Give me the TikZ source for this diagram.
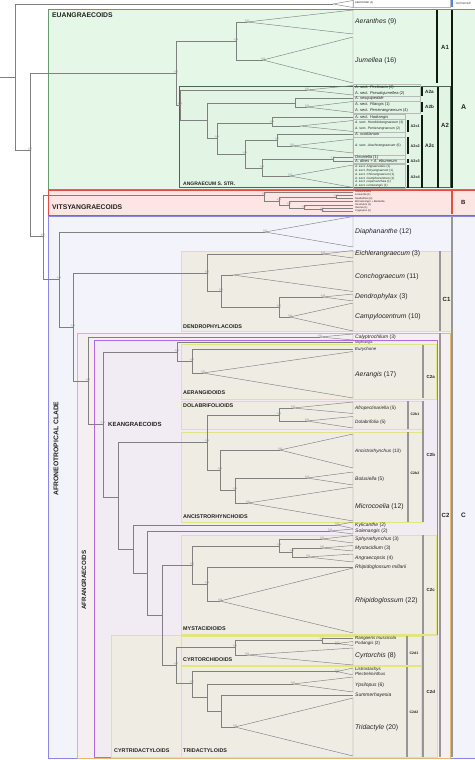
\documentclass[tikz,border=0pt]{standalone}
\usepackage{fontspec}
\setmainfont{Liberation Sans}
\usetikzlibrary{calc}
\definecolor{eufill}{RGB}{229,247,231}
\definecolor{euline}{RGB}{96,158,108}
\definecolor{ssfill}{RGB}{226,245,229}
\definecolor{ssline}{RGB}{70,105,80}
\definecolor{vitfill}{RGB}{252,229,227}
\definecolor{vitline}{RGB}{226,78,66}
\definecolor{afrfill}{RGB}{243,243,251}
\definecolor{afrline}{RGB}{136,136,232}
\definecolor{orfill}{RGB}{244,239,241}
\definecolor{orline}{RGB}{232,182,120}
\definecolor{pufill}{RGB}{241,235,243}
\definecolor{puline}{RGB}{178,104,226}
\definecolor{yefill}{RGB}{238,236,227}
\definecolor{yeline}{RGB}{228,228,130}
\definecolor{brgray}{RGB}{128,128,128}
\definecolor{ink}{RGB}{35,35,35}
\definecolor{barblk}{RGB}{12,28,14}
\definecolor{bargry}{RGB}{150,150,150}
\definecolor{ogblue}{RGB}{80,130,230}
\newcommand\fs[1]{\fontsize{#1}{#1}\selectfont}
% support values at a node: posterior probability over bootstrap
\newcommand\supp[3]{\node[sup] (s-#1) at (#1) {#2\\#3};}
% collapsed clade: apex, top and bottom of the base
\newcommand\tri[3]{\draw[br] (#1) -- (353,#2) -- (353,#3) -- cycle;}
\tikzset{
  box/.style={draw=#1line,fill=#1fill,line width=0.8pt},
  br/.style={draw=brgray,line width=0.45pt},
  row/.style={draw=gray!55,line width=0.35pt},
  tax/.style={anchor=west,inner xsep=2pt,inner ysep=0pt,text=ink,font=\fs{6.8}},
  taxm/.style={tax,font=\fs{5}},
  taxs/.style={tax,font=\fs{4}},
  taxx/.style={tax,font=\fs{3.4}},
  taxt/.style={tax,font=\fs{2.6}},
  grp/.style={anchor=west,inner sep=0pt,text=ink,font=\bfseries\fs{5.4}},
  biggrp/.style={grp,font=\bfseries\fs{6.8}},
  bar/.style={line width=2.4pt,draw=barblk},
  gbar/.style={line width=2pt,draw=bargry},
  barlab/.style={anchor=west,inner sep=0pt,text=ink,font=\bfseries\fs{#1}},
  barlab/.default=6,
  sup/.style={font=\fs{2.2},text=brgray,inner sep=0pt,align=center},
}
\begin{document}
\begin{tikzpicture}[x=1pt,y=-1pt]
\useasboundingbox (0,0) rectangle (474,760);
% clade boxes
\draw[box=eu] (48,9) rectangle (477,189);
\draw[box=ss,line width=0.6pt] (179,86) rectangle (450,187);
\draw[box=vit] (48,190) rectangle (477,215);
\draw[box=afr] (48,216) rectangle (477,758);
\draw[box=ye,line width=1pt] (181,251) rectangle (452,331);
\draw[box=or,line width=1pt] (77,333) rectangle (450,758);
\draw[box=pu,line width=1pt] (94,340) rectangle (437,757);
\draw[box=ye,line width=1pt] (181,344) rectangle (436,399);
\draw[box=ye,line width=1pt] (181,401) rectangle (422,429);
\draw[box=ye,line width=1pt] (181,432) rectangle (422,522);
\draw[box=ye,line width=1pt] (181,535) rectangle (436,634);
\draw[box=ye,line width=1pt] (111,635) rectangle (437,757);
\draw[box=ye,line width=1pt] (181,636) rectangle (421,665);
\draw[box=ye,line width=1pt] (181,666) rectangle (421,757);
% terminal rows
\draw[row,fill=white] (353,-1) rectangle (450,7.5);
\foreach \t/\b/\r in {84.5/96/420,96/101/420,101/113/420,114/119.5/405,119.5/132/405,
  132/137/405,137/155/405,155/159/405,159/163.5/405,164.5/188/405}
  \draw[row] (353,\t) rectangle (\r,\b);

% tree, euangraecoids
\coordinate (stub) at (0,77);
\coordinate (root) at (15,77);
\coordinate (og) at (333,4);
\coordinate (ing) at (30,150);
\coordinate (eu) at (176,73);
\coordinate (a1) at (236,41);
\coordinate (aer) at (247,22);
\coordinate (jum) at (263,60);
\coordinate (a2) at (180,105);
\coordinate (a2a) at (307,90);
\coordinate (a2r) at (207,120);
\coordinate (ses) at (295,103);
\coordinate (a2b) at (307,107);
\coordinate (a2c) at (217,138);
\coordinate (hd) at (272,123);
\coordinate (c1) at (300,126);
\coordinate (e) at (245,154);
\coordinate (f) at (277,140);
\coordinate (arac) at (292,146);
\coordinate (g) at (262,168);
\coordinate (h) at (333,159);
\coordinate (c4) at (290,176);

\node[taxt] (t-og) at (353,3.3) {AERIDINAE (4)};
\node[taxt] (t-ogl) at (454,3.3) {OUTGROUP};
\node[tax] (t-aer) at (353,22) {\textit{Aeranthes} (9)};
\node[tax] (t-jum) at (353,61) {\textit{Jumellea} (16)};
\node[taxs] (t-pect) at (353,87.5) {\textit{A.} sect. \textit{Pectinaria} (2)};
\node[taxs] (t-pseu) at (353,93) {\textit{A.} sect. \textit{Pseudojumellea} (2)};
\node[taxs] (t-sesq) at (353,98.7) {\textit{A. sesquipedale}};
\node[taxs] (t-fila) at (353,104.5) {\textit{A.} sect. \textit{Filangis} (1)};
\node[taxs] (t-perr) at (353,110) {\textit{A.} sect. \textit{Perrierangraecum} (4)};
\node[taxs] (t-hadr) at (353,117) {\textit{A.} sect. \textit{Hadrangis}};
\node[taxx] (t-humb) at (353,123) {\textit{A.} sect. \textit{Humblotiangraecum} (3)};
\node[taxx] (t-perb) at (353,129) {\textit{A.} sect. \textit{Perrierangraecum} (2)};
\node[taxs] (t-scot) at (353,134.5) {\textit{A. scottianum}};
\node[taxx] (t-arac) at (353,146) {\textit{A.} sect. \textit{Arachnangraecum} (6)};
\node[taxs] (t-oeon) at (353,157) {\textit{Oeoniella} (1)};
\node[taxs] (t-dive) at (353,161.3) {\textit{A. dives} + \textit{A. eburneum}};
\foreach \s [count=\i] in {Angraecoides,Boryangraecum,Chlorangraecum,Gomphocentrum,Lepervanchea,Lemurangis}
  \node[taxt,font=\fs{3.1}] (t-sx\i) at (353,163+3.8*\i) {\textit{A.} sect. \textit{\s} (1)};

\draw[br] (stub) -- (root) (root) |- (og) (root) |- (ing);
\tri{og}{0.5}{7.5}
\draw[br] (ing) |- (eu) (eu) |- (a1) (a1) |- (aer) (a1) |- (jum);
\tri{aer}{10}{34}
\tri{jum}{37}{83}
\draw[br] (eu) |- (a2) (a2) |- (a2a) (a2) |- (a2r) (a2r) |- (ses) (ses) |- (t-sesq.west)
  (ses) |- (a2b) (a2r) |- (a2c) (a2c) |- (hd) (hd) |- (t-hadr.west) (hd) |- (c1)
  (a2c) |- (e) (e) |- (f) (f) |- (t-scot.west) (f) |- (arac) (e) |- (g)
  (g) |- (h) (h) |- (t-oeon.west) (h) |- (t-dive.west) (g) |- (c4);
\tri{a2a}{85.5}{95}
\tri{a2b}{101.5}{112.5}
\tri{c1}{120.5}{131.5}
\tri{arac}{139}{153}
\tri{c4}{165}{187.5}

% tree, vitsyangraecoids
\coordinate (vc) at (43,236);
\coordinate (v0) at (264,195);
\coordinate (v1) at (279,201);
\coordinate (v2) at (336,196.8);
\coordinate (v3) at (289,205);
\coordinate (v4) at (304,208);
\coordinate (v5) at (322,209.6);
\foreach \n/\s [count=\i] in {Sobennikoffia/,Lemurella/ (1),Neobathiea/ (3),Microterangis + Beclardia/,
  Ossiculum/ (1),Oeonia/ (1),Cryptopus/ (2)}
  \node[taxt] (t-v\i) at (353,188.8+3.2*\i) {\textit{\n}\s};
\draw[br] (ing) |- (vc) (vc) |- (v0) (v0) |- (t-v1.west) (v0) |- (v1) (v1) |- (v2)
  (v2) |- (t-v2.west) (v2) |- (t-v3.west) (v1) |- (v3) (v3) |- (t-v4.west) (v3) |- (v4)
  (v4) |- (t-v5.west) (v4) |- (v5) (v5) |- (t-v6.west) (v5) |- (t-v7.west);

% tree, afroneotropical clade
\coordinate (af) at (59,279);
\coordinate (dia) at (265,232);
\coordinate (dc) at (73,327);
\coordinate (de) at (207,273);
\coordinate (eich) at (323,254);
\coordinate (de2) at (221,291);
\coordinate (conc) at (233,275);
\coordinate (de3) at (279,307);
\coordinate (dphx) at (323,297);
\coordinate (camp) at (290,317);
\coordinate (afr) at (88,381);
\coordinate (caly) at (320,337);
\coordinate (ke) at (103,424);
\coordinate (aer0) at (177,352);
\coordinate (aer1) at (192,361);
\coordinate (aerg) at (203,373);
\coordinate (ke2) at (118,497);
\coordinate (ad) at (207,442);
\coordinate (dol) at (279,415);
\coordinate (afrp) at (293,408);
\coordinate (dolb) at (307,421);
\coordinate (anc) at (220,470);
\coordinate (ancs) at (280,450);
\coordinate (anc2) at (235,490);
\coordinate (bolu) at (307,478);
\coordinate (micr) at (248,503);
\coordinate (my0) at (133,549);
\coordinate (kyl) at (337,525);
\coordinate (my1) at (147,573);
\coordinate (sol) at (330,531);
\coordinate (my2) at (162,615);
\coordinate (mys) at (192,565);
\coordinate (m1) at (279,546);
\coordinate (sphy) at (322,539);
\coordinate (m1b) at (292,552);
\coordinate (mysd) at (322,548);
\coordinate (angp) at (308,557);
\coordinate (m2) at (207,584);
\coordinate (rhip) at (220,601);
\coordinate (cy) at (176,665);
\coordinate (cyo) at (235,647);
\coordinate (ran) at (322,640);
\coordinate (pod) at (337,643.5);
\coordinate (cyrt) at (247,655);
\coordinate (tr) at (192,683);
\coordinate (lp) at (337,671.5);
\coordinate (tr2) at (207,697);
\coordinate (yps) at (293,684);
\coordinate (tr3) at (221,711);
\coordinate (trid) at (235,727);

\node[tax] (t-dia) at (353,232) {\textit{Diaphananthe} (12)};
\node[tax] (t-eich) at (353,254) {\textit{Eichlerangraecum} (3)};
\node[tax] (t-conc) at (353,277) {\textit{Conchograecum} (11)};
\node[tax] (t-dphx) at (353,297) {\textit{Dendrophylax} (3)};
\node[tax] (t-camp) at (353,317) {\textit{Campylocentrum} (10)};
\node[taxm] (t-caly) at (353,337) {\textit{Calyptrochilum} (3)};
\node[taxx] (t-neph) at (353,342.5) {\textit{Nephrangis}};
\node[taxs,font=\fs{4.4}] (t-eury) at (353,349.5) {\textit{Eurychone}};
\node[tax] (t-aerg) at (353,375) {\textit{Aerangis} (17)};
\node[taxm,font=\fs{4.7}] (t-afrp) at (353,408) {\textit{Afropectinariella} (5)};
\node[taxm,font=\fs{4.7}] (t-dolb) at (353,422) {\textit{Dolabrifolia} (5)};
\node[taxm,font=\fs{4.7}] (t-ancs) at (353,451) {\textit{Ancistrorhynchus} (13)};
\node[taxm] (t-bolu) at (353,479) {\textit{Bolusiella} (5)};
\node[tax] (t-micr) at (353,507) {\textit{Microcoelia} (12)};
\node[taxm] (t-kyl) at (353,525) {\textit{Kylicanthe} (2)};
\node[taxm] (t-sol) at (353,531) {\textit{Solenangis} (2)};
\node[taxm] (t-sphy) at (353,539) {\textit{Sphyrarhynchus} (3)};
\node[taxm] (t-mysd) at (353,548) {\textit{Mystacidium} (3)};
\node[taxm] (t-angp) at (353,558) {\textit{Angraecopsis} (4)};
\node[taxm] (t-rmil) at (353,567) {\textit{Rhipidoglossum millarii}};
\node[tax] (t-rhip) at (353,601) {\textit{Rhipidoglossum} (22)};
\node[taxs,font=\fs{4.4}] (t-ran) at (353,638) {\textit{Rangaeris muscicola}};
\node[taxs,font=\fs{4.4}] (t-pod) at (353,643) {\textit{Podangis} (2)};
\node[tax] (t-cyrt) at (353,656) {\textit{Cyrtorchis} (8)};
\node[taxs,font=\fs{4.4}] (t-list) at (353,669) {\textit{Listrostachys}};
\node[taxs,font=\fs{4.4}] (t-plec) at (353,674) {\textit{Plectrelminthus}};
\node[taxm] (t-yps) at (353,685) {\textit{Ypsilopus} (6)};
\node[taxm] (t-summ) at (353,695) {\textit{Summerhayesia}};
\node[tax] (t-trid) at (353,728) {\textit{Tridactyle} (20)};

\draw[br] (vc) |- (af) (af) |- (dia) (af) |- (dc) (dc) |- (de) (de) |- (eich) (de) |- (de2)
  (de2) |- (conc) (de2) |- (de3) (de3) |- (dphx) (de3) |- (camp);
\tri{dia}{216.5}{247}
\tri{eich}{250.5}{258}
\tri{conc}{261}{291.5}
\tri{dphx}{294}{301}
\tri{camp}{303}{331}
\draw[br] (dc) |- (afr) (afr) |- (caly) (afr) |- (ke) (ke) |- (aer0) (aer0) |- (t-neph.west)
  (aer0) |- (aer1) (aer1) |- (t-eury.west) (aer1) |- (aerg);
\tri{caly}{334}{340}
\tri{aerg}{351.5}{398}
\draw[br] (ke) |- (ke2) (ke2) |- (ad) (ad) |- (dol) (dol) |- (afrp) (dol) |- (dolb)
  (ad) |- (anc) (anc) |- (ancs) (anc) |- (anc2) (anc2) |- (bolu) (anc2) |- (micr);
\tri{afrp}{402}{413.5}
\tri{dolb}{416.5}{428}
\tri{ancs}{434}{468}
\tri{bolu}{472}{485}
\tri{micr}{487}{521}
\draw[br] (ke2) |- (my0) (my0) |- (kyl) (my0) |- (my1) (my1) |- (sol) (my1) |- (my2)
  (my2) |- (mys) (mys) |- (m1) (m1) |- (sphy) (m1) |- (m1b) (m1b) |- (mysd) (m1b) |- (angp)
  (mys) |- (m2) (m2) |- (t-rmil.west) (m2) |- (rhip);
\tri{kyl}{522}{528.5}
\tri{sol}{529}{534}
\tri{sphy}{535.5}{543}
\tri{mysd}{545.5}{551}
\tri{angp}{554}{562}
\tri{rhip}{568}{633}
\draw[br] (my2) |- (cy) (cy) |- (cyo) (cyo) |- (ran) (ran) |- (t-ran.west) (ran) |- (pod)
  (cyo) |- (cyrt) (cy) |- (tr) (tr) |- (lp) (tr) |- (tr2) (tr2) |- (yps) (tr2) |- (tr3)
  (tr3) |- (t-summ.west) (tr3) |- (trid);
\tri{pod}{641.5}{645.5}
\tri{cyrt}{648}{665}
\tri{lp}{668}{675}
\tri{yps}{677}{692}
\tri{trid}{698}{756}

% support values
\supp{ing}{1.00}{100}
\supp{eu}{1.00}{100}
\supp{a1}{0.98}{75}
\supp{aer}{1.00}{100}
\supp{jum}{1.00}{100}
\supp{a2}{0.98}{97}
\supp{a2a}{1.00}{100}
\supp{a2b}{1.00}{100}
\supp{a2c}{0.99}{97}
\supp{hd}{0.96}{75}
\supp{e}{0.88}{55}
\supp{f}{1.00}{98}
\supp{arac}{1.00}{99}
\supp{g}{0.96}{84}
\supp{h}{0.74}{50}
\supp{c4}{1.00}{100}
\supp{vc}{1.00}{100}
\supp{v0}{1.00}{100}
\supp{v1}{0.98}{83}
\supp{v2}{1.00}{98}
\supp{v3}{1.00}{96}
\supp{v4}{0.88}{91}
\supp{v5}{1.00}{100}
\supp{af}{0.96}{87}
\supp{dia}{1.00}{100}
\supp{dc}{0.98}{88}
\supp{de}{1.00}{100}
\supp{eich}{1.00}{100}
\supp{de2}{1.00}{100}
\supp{de3}{0.99}{100}
\supp{dphx}{0.99}{94}
\supp{camp}{1.00}{99}
\supp{afr}{0.88}{76}
\supp{caly}{1.00}{100}
\supp{ke}{0.71}{52}
\supp{aer0}{0.99}{97}
\supp{aer1}{1.00}{99}
\supp{aerg}{1.00}{99}
\supp{ad}{0.99}{97}
\supp{dol}{0.99}{87}
\supp{afrp}{1.00}{100}
\supp{dolb}{1.00}{100}
\supp{anc}{0.86}{77}
\supp{ancs}{1.00}{100}
\supp{anc2}{0.99}{94}
\supp{bolu}{1.00}{100}
\supp{micr}{1.00}{100}
\supp{kyl}{1.00}{100}
\supp{sol}{1.00}{100}
\supp{m1}{0.99}{94}
\supp{m1b}{0.90}{67}
\supp{sphy}{1.00}{100}
\supp{mysd}{1.00}{100}
\supp{angp}{1.00}{100}
\supp{mys}{1.00}{100}
\supp{m2}{0.99}{83}
\supp{rhip}{1.00}{100}
\supp{cy}{1.00}{98}
\supp{cyo}{1.00}{96}
\supp{ran}{0.62}{51}
\supp{pod}{1.00}{100}
\supp{cyrt}{1.00}{100}
\supp{tr}{0.97}{86}
\supp{lp}{1.00}{99}
\supp{yps}{1.00}{94}
\supp{trid}{1.00}{99}

% clade names
\node[biggrp] (n-eu) at (52,15) {EUANGRAECOIDS};
\node[grp,font=\bfseries\fs{5}] (n-ss) at (183,184) {ANGRAECUM S. STR.};
\node[biggrp] (n-vit) at (52,207.5) {VITSYANGRAECOIDS};
\node[biggrp,rotate=90,anchor=center] (n-afr) at (56,448.5) {AFRONEOTROPICAL CLADE};
\node[grp] (n-den) at (183,327) {DENDROPHYLACOIDS};
\node[biggrp,font=\bfseries\fs{6.2},rotate=90,anchor=center] (n-afg) at (84,580) {AFRANGRAECOIDS};
\node[grp,font=\bfseries\fs{6}] (n-ke) at (108,424) {KEANGRAECOIDS};
\node[grp] (n-aer) at (183,393) {AERANGIDOIDS};
\node[grp] (n-dol) at (183,406) {DOLABRIFOLIOIDS};
\node[grp] (n-anc) at (183,517) {ANCISTRORHYNCHOIDS};
\node[grp] (n-mys) at (183,629) {MYSTACIDIOIDS};
\node[grp] (n-cyo) at (183,659.5) {CYRTORCHIDOIDS};
\node[grp] (n-ctr) at (114,751) {CYRTRIDACTYLOIDS};
\node[grp] (n-tri) at (183,751) {TRIDACTYLOIDS};

% bars, A and B
\draw[line width=1.6pt,ogblue] (452,0) -- (452,7.5);
\draw[bar] (437,10) -- (437,83);
\draw[bar] (452,10) -- (452,188);
\draw[bar] (438,87) -- (438,188);
\draw[bar] (422,87) -- (422,96);
\draw[bar] (422,102) -- (422,112);
\draw[bar] (422,115) -- (422,188);
\foreach \t/\b in {120/132,137/154,159/163,165/188} \draw[bar] (408,\t) -- (408,\b);
\draw[bar,draw=vitline] (452,191) -- (452,214);
\node[barlab] (l-a1) at (441,47) {A1};
\node[barlab=7] (l-a) at (461,107) {A};
\node[barlab] (l-a2) at (441,125) {A2};
\node[barlab=4.6] (l-a2a) at (425,92) {A2a};
\node[barlab=4.6] (l-a2b) at (425,107) {A2b};
\node[barlab=5] (l-a2c) at (425,146) {A2c};
\node[barlab=3.8] (l-c1) at (410.5,126) {A2c1};
\node[barlab=3.8] (l-c2) at (410.5,146) {A2c2};
\node[barlab=3.8] (l-c3) at (410.5,161) {A2c3};
\node[barlab=3.8] (l-c4) at (410.5,177) {A2c4};
\node[barlab] (l-b) at (461,202.5) {B};

% bars, C
\draw[gbar] (452,216) -- (452,757);
\draw[gbar] (439.5,251) -- (439.5,331);
\draw[gbar] (439.5,333) -- (439.5,757);
\draw[gbar] (423,345) -- (423,398);
\draw[gbar] (423,401) -- (423,522);
\draw[gbar] (423,535) -- (423,634);
\draw[gbar] (423,636) -- (423,757);
\draw[gbar] (408,401) -- (408,429);
\draw[gbar] (408,432) -- (408,522);
\draw[gbar] (407,636) -- (407,665);
\draw[gbar] (407,667) -- (407,757);
\node[barlab=6.5] (l-c) at (461,515) {C};
\node[barlab=6] (l-c-1) at (442.5,299) {C1};
\node[barlab=6] (l-c-2) at (441.5,515) {C2};
\node[barlab=4.4] (l-c2a) at (426.5,377) {C2a};
\node[barlab=4.4] (l-c2b) at (426.5,455) {C2b};
\node[barlab=4.4] (l-c2c) at (426.5,590) {C2c};
\node[barlab=4.4] (l-c2d) at (426.5,692) {C2d};
\node[barlab=3.5] (l-c2b1) at (410.5,414) {C2b1};
\node[barlab=3.5] (l-c2b2) at (410.5,473) {C2b2};
\node[barlab=3.5] (l-c2d1) at (409.5,653) {C2d1};
\node[barlab=3.5] (l-c2d2) at (409.5,712) {C2d2};
\end{tikzpicture}
\end{document}
